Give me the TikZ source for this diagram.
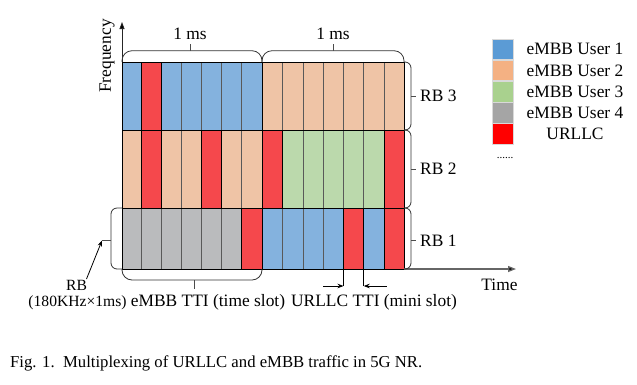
\documentclass[tikz,border=0pt]{standalone}
\usepackage{fontspec}
\setmainfont{Liberation Serif}
\usetikzlibrary{arrows.meta}
\definecolor{cB}{RGB}{132,178,222}
\definecolor{cP}{RGB}{239,196,166}
\definecolor{cG}{RGB}{187,217,172}
\definecolor{cY}{RGB}{186,187,189}
\definecolor{cR}{RGB}{245,72,76}
\definecolor{lB}{RGB}{91,155,213}
\definecolor{lP}{RGB}{244,177,131}
\definecolor{lG}{RGB}{169,209,142}
\definecolor{lY}{RGB}{165,165,165}
\definecolor{lR}{RGB}{255,0,0}
\begin{document}
\begin{tikzpicture}[x=1pt,y=-1pt,
  sep/.style={draw=black!65,line width=0.7pt},
  grp/.style={draw=black,line width=0.95pt},
  brace/.style={draw=black!80,line width=0.8pt,rounded corners=10pt},
  rbrace/.style={draw=black!80,line width=0.8pt,rounded corners=6pt},
  tick/.style={draw=black!70,line width=0.8pt},
  lbl/.style={font=\fontsize{17.4}{20}\selectfont,inner sep=0pt},
  smalllbl/.style={font=\fontsize{15.6}{18}\selectfont,inner sep=0pt},
  taxis/.style={draw=black!60,line width=1.3pt,-{Triangle[length=8pt,width=6pt,fill=black]}},
  faxis/.style={draw=black!85,line width=0.8pt,-{Triangle[length=7pt,width=5pt,fill=black]}},
  pointer/.style={draw=black,line width=0.8pt,-{Stealth[length=6pt,width=4.5pt]}},
  legbox/.style={draw=black!15,line width=0.8pt}]
\fill[white] (0,0) rectangle (637,384);
\useasboundingbox (0,0) rectangle (637,384);
\def\xs{{122,141,161,181,201.3,221.5,241.5,262,282.5,303,323.3,343.5,363.7,384,404}}
% RB 3
\foreach \c [count=\i from 0] in {cB,cR,cB,cB,cB,cB,cB,cP,cP,cP,cP,cP,cP,cP}{
  \pgfmathsetmacro\xl{\xs[\i]}\pgfmathsetmacro\xr{\xs[\i+1]}
  \draw[sep,fill=\c] (\xl,62) rectangle (\xr,130);}
% RB 2
\foreach \c [count=\i from 0] in {cP,cR,cP,cP,cR,cP,cP,cR,cG,cG,cG,cG,cG,cR}{
  \pgfmathsetmacro\xl{\xs[\i]}\pgfmathsetmacro\xr{\xs[\i+1]}
  \draw[sep,fill=\c] (\xl,130) rectangle (\xr,208);}
% RB 1
\foreach \c [count=\i from 0] in {cY,cY,cY,cY,cY,cY,cR,cB,cB,cB,cB,cR,cB,cR}{
  \pgfmathsetmacro\xl{\xs[\i]}\pgfmathsetmacro\xr{\xs[\i+1]}
  \draw[sep,fill=\c] (\xl,208) rectangle (\xr,269);}
% group outlines
\foreach \a/\b in {122/141,141/161,161/262,262/404}{\draw[grp] (\a,62) rectangle (\b,130);}
\foreach \a/\b in {122/141,141/161,161/201.3,201.3/221.5,221.5/262,262/282.5,282.5/384,384/404}{\draw[grp] (\a,130) rectangle (\b,208);}
\foreach \a/\b in {122/241.5,241.5/262,262/343.5,343.5/363.7,363.7/384,384/404}{\draw[grp] (\a,208) rectangle (\b,269);}
% axes
\coordinate (origin) at (122,269);
\coordinate (ftop) at (122,62);
\coordinate (fend) at (122,22);
\coordinate (tstart) at (404,269);
\coordinate (tend) at (516,269);
\draw[faxis] (ftop) -- (fend);
\draw[taxis] (tstart) -- (tend);
\node[lbl,rotate=90] (freq) at (107,56) {Frequency};
\node[lbl,anchor=base] (time) at (499.5,290.7) {Time};
% top braces
\draw[brace] (122,62) -- (122,50.7) -- (262,50.7) -- (262,62);
\draw[brace] (262,62) -- (262,50.7) -- (404,50.7) -- (404,62);
\coordinate (t1a) at (190,50.7); \coordinate (t1b) at (190,44);
\coordinate (t2a) at (333,50.7); \coordinate (t2b) at (333,44);
\draw[tick] (t1a) -- (t1b);
\draw[tick] (t2a) -- (t2b);
\node[lbl] (ms1) at (190,34) {1 ms};
\node[lbl] (ms2) at (333,34) {1 ms};
% right braces
\draw[rbrace] (404,62) -- (411,62) -- (411,130) -- (404,130);
\draw[rbrace] (404,130) -- (411,130) -- (411,208) -- (404,208);
\draw[rbrace] (404,208) -- (411,208) -- (411,269) -- (404,269);
\coordinate (r3) at (411,96); \coordinate (r2) at (411,169); \coordinate (r1) at (411,240.5);
\coordinate (r3e) at (416,96); \coordinate (r2e) at (416,169); \coordinate (r1e) at (416,240.5);
\draw[tick] (r3) -- (r3e);
\draw[tick] (r2) -- (r2e);
\draw[tick] (r1) -- (r1e);
\node[lbl,anchor=west] (rb3) at (420,96) {RB 3};
\node[lbl,anchor=west] (rb2) at (420,169) {RB 2};
\node[lbl,anchor=west] (rb1) at (420,240.5) {RB 1};
% left brace (one RB)
\draw[rbrace] (122,208) -- (111,208) -- (111,269) -- (122,269);
\coordinate (lb) at (111,240.5);
\coordinate (rbtip) at (102,240.5);
\draw[tick] (lb) -- (rbtip);
\node[smalllbl,anchor=base] (rblbl) at (76.5,290.5) {RB};
\coordinate (rbfoot) at (86.5,279);
\draw[pointer] (rbfoot) -- (rbtip);
\node[smalllbl,anchor=base] (rbsize) at (77.5,306.5) {(180KHz×1ms)};
% bottom brace (eMBB TTI)
\draw[brace] (122,269) -- (122,280) -- (262,280) -- (262,269);
\coordinate (bta) at (194,280); \coordinate (btb) at (194,289);
\draw[tick] (bta) -- (btb);
\node[lbl,anchor=base] (tti) at (208,306.5) {eMBB TTI (time slot)};
% mini slot markers
\coordinate (m1a) at (343.5,269); \coordinate (m1b) at (343.5,286); \coordinate (m1c) at (323,286);
\coordinate (m2a) at (363.7,269); \coordinate (m2b) at (363.7,286); \coordinate (m2c) at (386.7,286);
\draw[line width=0.8pt] (m1a) -- (m1b);
\draw[line width=0.8pt] (m2a) -- (m2b);
\draw[pointer] (m1c) -- (m1b);
\draw[pointer] (m2c) -- (m2b);
\node[lbl,anchor=base] (mtti) at (374,306.5) {URLLC TTI (mini slot)};
% legend
\foreach \c/\t [count=\k from 0] in {lB/eMBB User 1,lP/eMBB User 2,lG/eMBB User 3,lY/eMBB User 4,lR/URLLC}{
  \pgfmathsetmacro\yt{39+21.2*\k}
  \draw[legbox,fill=\c] (492,\yt) rectangle (513,\yt+20.6);
  \node[lbl] (leg\k) at (575,\yt+10.3) {\t};}
\node[font=\fontsize{11}{13}\selectfont,inner sep=0pt] (ldots) at (505,158) {......};
% caption
\node[anchor=base west,font=\fontsize{16.7}{20}\selectfont,inner sep=0pt] (cap) at (10,367.5) {Fig. 1.\enspace Multiplexing of URLLC and eMBB traffic in 5G NR.};
\end{tikzpicture}
\end{document}
